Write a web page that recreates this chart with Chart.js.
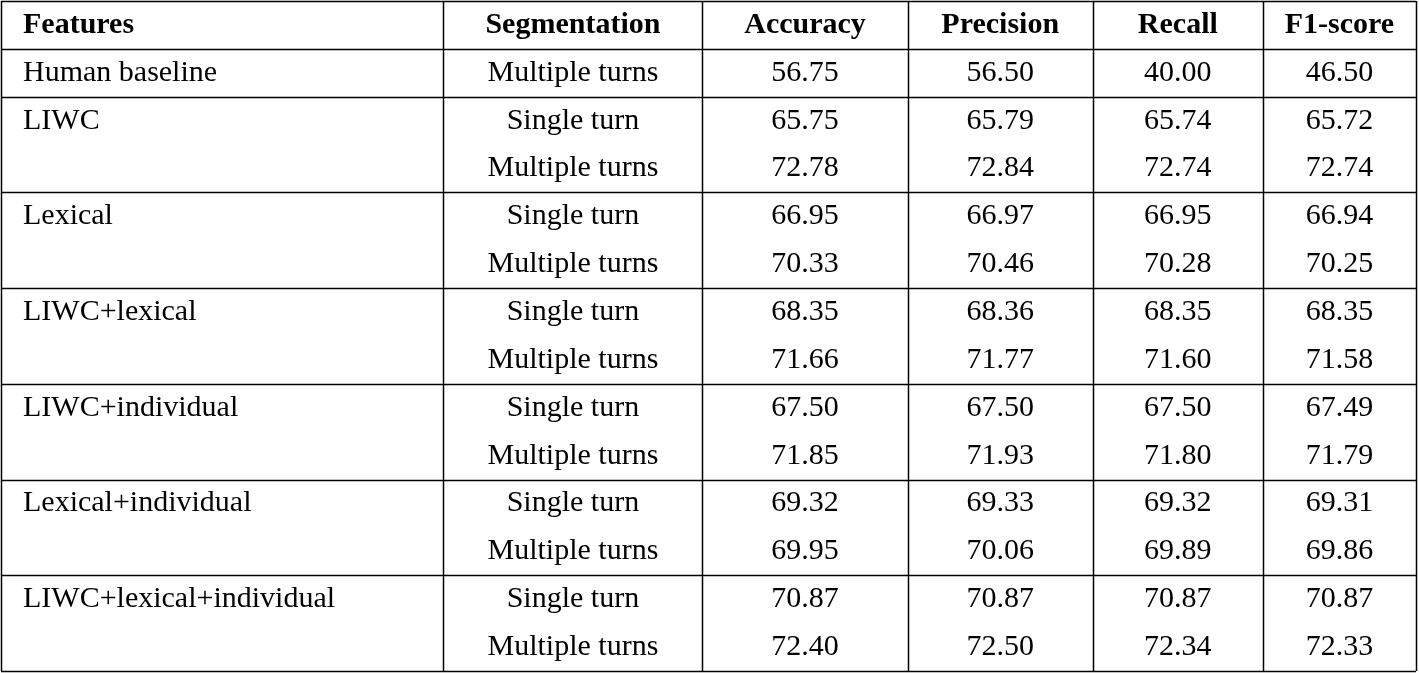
<!DOCTYPE html>
<html>
<head>
<meta charset="utf-8">
<script src="https://cdn.jsdelivr.net/npm/chart.js@4"></script>
<style>
  html, body { margin: 0; padding: 0; background: #fff; }
  #wrap { width: 1419px; height: 673px; }
</style>
</head>
<body>
<div id="wrap"><canvas id="tbl"></canvas></div>
<script>
// table content
const headers = ["Features", "Segmentation", "Accuracy", "Precision", "Recall", "F1-score"];
const features = ["Human baseline", "LIWC", "", "Lexical", "", "LIWC+lexical", "", "LIWC+individual", "", "Lexical+individual", "", "LIWC+lexical+individual", ""];
const segmentation = ["Multiple turns", "Single turn", "Multiple turns", "Single turn", "Multiple turns", "Single turn", "Multiple turns", "Single turn", "Multiple turns", "Single turn", "Multiple turns", "Single turn", "Multiple turns"];
const accuracy = ["56.75", "65.75", "72.78", "66.95", "70.33", "68.35", "71.66", "67.50", "71.85", "69.32", "69.95", "70.87", "72.40"];
const precision = ["56.50", "65.79", "72.84", "66.97", "70.46", "68.36", "71.77", "67.50", "71.93", "69.33", "70.06", "70.87", "72.50"];
const recall = ["40.00", "65.74", "72.74", "66.95", "70.28", "68.35", "71.60", "67.50", "71.80", "69.32", "69.89", "70.87", "72.34"];
const f1 = ["46.50", "65.72", "72.74", "66.94", "70.25", "68.35", "71.58", "67.49", "71.79", "69.31", "69.86", "70.87", "72.33"];

// layout: column edges in x-scale units, rule positions in row units
const colEdges = [0, 442, 701, 906, 1091, 1261, 1414];
const ruleRows = [0, 1, 2, 4, 6, 8, 10, 12, 14];

const columns = [features, segmentation, accuracy, precision, recall, f1];
const rowCount = features.length + 1;

const tablePlugin = {
  id: "tablePlugin",
  afterDraw(chart) {
    const ctx = chart.ctx;
    const xs = chart.scales.x, ys = chart.scales.y;
    const top = ys.getPixelForValue(0), bottom = ys.getPixelForValue(rowCount);
    const left = xs.getPixelForValue(0), right = xs.getPixelForValue(colEdges[colEdges.length - 1]);
    ctx.save();
    ctx.strokeStyle = "#000";
    ctx.lineWidth = 1.5;
    colEdges.forEach(e => {
      const x = Math.round(xs.getPixelForValue(e)) + 0.5;
      ctx.beginPath(); ctx.moveTo(x, top); ctx.lineTo(x, bottom); ctx.stroke();
    });
    ruleRows.forEach(r => {
      const y = Math.round(ys.getPixelForValue(r)) + 0.5;
      ctx.beginPath(); ctx.moveTo(left, y); ctx.lineTo(right, y); ctx.stroke();
    });
    ctx.fillStyle = "#000";
    ctx.textBaseline = "middle";
    for (let c = 0; c < columns.length; c++) {
      const x0 = xs.getPixelForValue(colEdges[c]);
      const x1 = xs.getPixelForValue(colEdges[c + 1]);
      const cx = c === 0 ? x0 + 22 : (x0 + x1) / 2;
      ctx.textAlign = c === 0 ? "left" : "center";
      ctx.font = "bold 30px 'Liberation Serif'";
      ctx.fillText(headers[c], cx, ys.getPixelForValue(0.5));
      ctx.font = "30px 'Liberation Serif'";
      columns[c].forEach((t, r) => {
        if (t) ctx.fillText(t, cx, ys.getPixelForValue(r + 1.5));
      });
    }
    ctx.restore();
  }
};

new Chart(document.getElementById("tbl"), {
  type: "scatter",
  data: { datasets: [{ data: [] }] },
  options: {
    responsive: true,
    maintainAspectRatio: false,
    animation: false,
    layout: { padding: { left: 1, top: 1, right: 3, bottom: 2 } },
    plugins: { legend: { display: false }, tooltip: { enabled: false } },
    scales: {
      x: { type: "linear", min: 0, max: colEdges[colEdges.length - 1], display: false },
      y: { type: "linear", min: 0, max: rowCount, reverse: true, display: false }
    }
  },
  plugins: [tablePlugin]
});
</script>
</body>
</html>
